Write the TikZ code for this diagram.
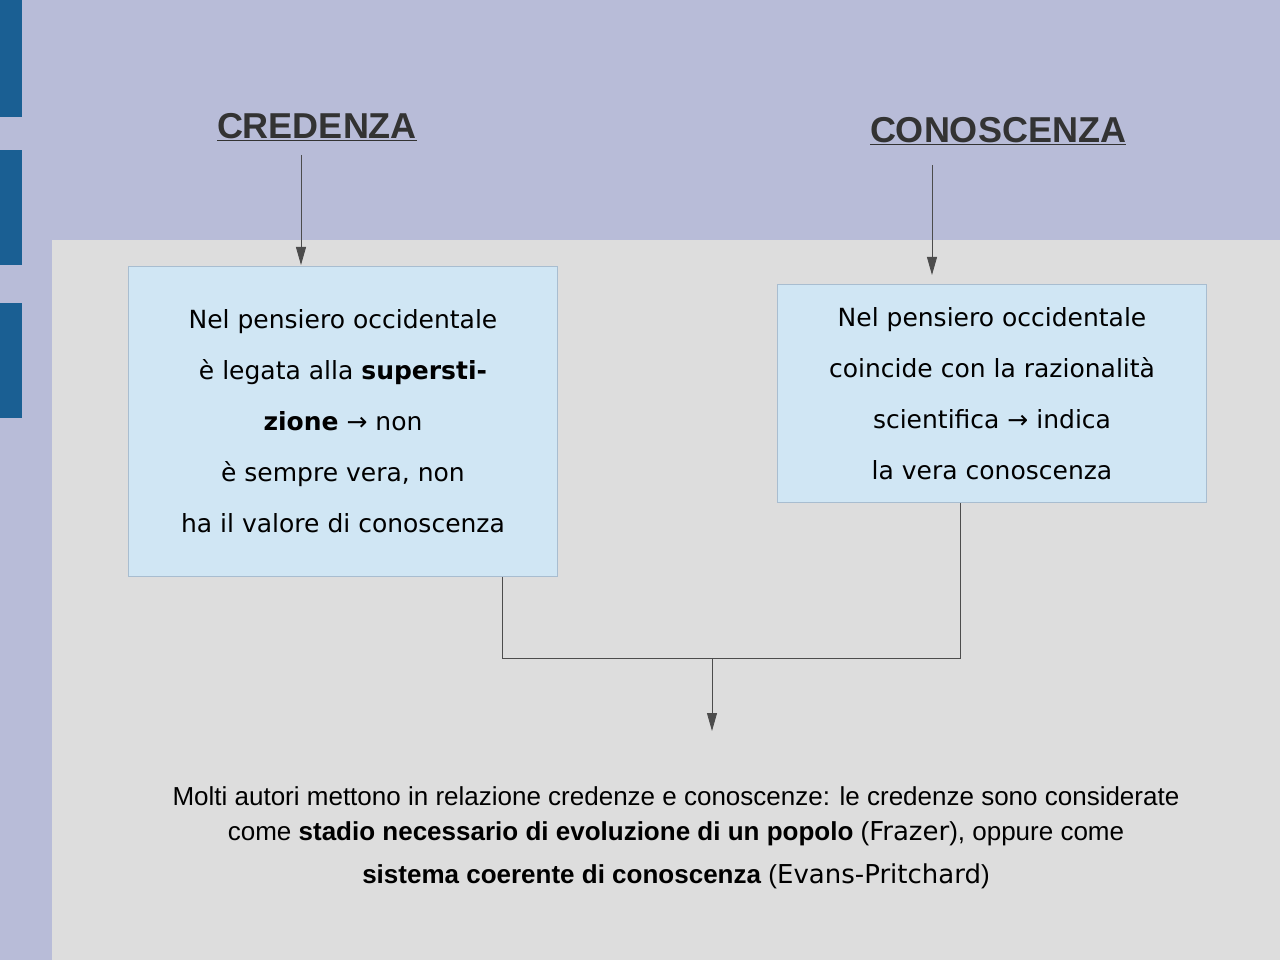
\documentclass[tikz,border=0pt]{standalone}
\usepackage{fontspec}
\setmainfont{Liberation Sans}
\newfontfamily\boxfont{DejaVu Sans}
\usetikzlibrary{arrows.meta}
\definecolor{lav}{HTML}{B8BCD8}
\definecolor{gry}{HTML}{DDDDDD}
\definecolor{bar}{HTML}{1A5F93}
\definecolor{boxf}{HTML}{D0E6F4}
\definecolor{boxd}{HTML}{A8BDD0}
\definecolor{ttl}{HTML}{333333}
\begin{document}
\begin{tikzpicture}[x=1pt,y=-1pt,
  ttlstyle/.style={font=\fontsize{36}{40}\selectfont\bfseries, text=ttl},
  bx/.style={draw=boxd, fill=boxf, line width=1pt, font=\boxfont\fontsize{25}{51}\selectfont, align=center, anchor=north west},
  con/.style={draw=black!70, line width=0.8pt},
  arr/.style={con, -{Triangle[length=18pt,width=10pt]}},
  note/.style={font=\fontsize{26}{43}\selectfont, align=center}]
\useasboundingbox (0,0) rectangle (1280,960);
\fill[lav] (0,0) rectangle (1280,960);
\fill[gry] (52,240) rectangle (1280,960);
\fill[bar] (0,0) rectangle (22,117);
\fill[bar] (0,150) rectangle (22,265);
\fill[bar] (0,303) rectangle (22,418);
\node[ttlstyle] (t1) at (317,127) {\underline{CREDENZA}};
\node[ttlstyle] (t2) at (998,131) {\underline{CONOSCENZA}};
\node[bx, minimum width=429pt, minimum height=310pt] (b1) at (128,266) {Nel pensiero occidentale\\ è legata alla \textbf{supersti-}\\ \textbf{zione} → non\\ è sempre vera, non\\ ha il valore di conoscenza};
\node[bx, minimum width=429pt, minimum height=218pt] (b2) at (777,284) {Nel pensiero occidentale\\ coincide con la razionalità\\ scientifica → indica\\ la vera conoscenza};
\coordinate (a1) at (301,155);
\coordinate (a2) at (932,165);
\draw[arr] (a1) -- (301,265);
\draw[arr] (a2) -- (932,275);
\coordinate (j1) at (502,658);
\coordinate (j2) at (960,658);
\coordinate (m) at (712,658);
\draw[con] (b1.south -| j1) -- (j1) -- (j2) -- (b2.south -| j2);
\draw[arr] (m) -- (712,731);
\node[note] (txt) at (676,838) {Molti autori mettono in relazione credenze e conoscenze: le credenze sono considerate\\[-8pt] come \textbf{stadio necessario di evoluzione di un popolo} ({\boxfont Frazer}), oppure come\\ \textbf{sistema coerente di conoscenza} ({\boxfont Evans-Pritchard})};
\end{tikzpicture}
\end{document}
